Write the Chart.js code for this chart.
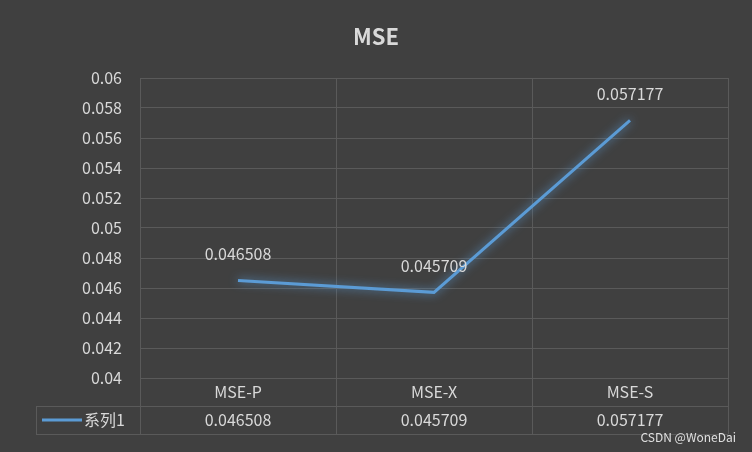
<!DOCTYPE html>
<html><head><meta charset="utf-8">
<script src="https://cdn.jsdelivr.net/npm/chart.js@4/dist/chart.umd.min.js"></script>
<style>html,body{margin:0;background:#404040}#w{width:752px;height:452px}</style>
</head><body><div id="w"><canvas id="c"></canvas></div>
<script>
const categories=["MSE-P","MSE-X","MSE-S"];
const values=[0.046508,0.045709,0.057177];
const seriesName="系列1";
const titleText="MSE";
const FONT='"Microsoft YaHei","Noto Sans CJK SC","DejaVu Sans",sans-serif';
const TXT='#d9d9d9', GRID='#5a5a5a';
const deco={id:'deco',
 beforeDatasetDraw(ch){const c=ch.ctx;c.save();c.shadowColor='rgba(91,155,213,0.9)';c.shadowBlur=10;},
 afterDatasetDraw(ch){ch.ctx.restore();},
 afterDraw(ch){
  const c=ch.ctx,a=ch.chartArea,x=ch.scales.x;
  c.save();
  c.fillStyle=TXT;c.textAlign='center';c.textBaseline='middle';
  c.font='bold 22px '+FONT;c.fillText(titleText,376,37);
  c.font='16px '+FONT;
  const meta=ch.getDatasetMeta(0);
  meta.data.forEach((p,i)=>c.fillText(values[i].toString(),p.x,p.y-26));
  // table
  const r0=a.bottom,r1=r0+28,r2=r1+28,left=36;
  c.strokeStyle=GRID;c.lineWidth=1;c.beginPath();
  c.moveTo(a.left,r0+.5);c.lineTo(a.right,r0+.5);
  c.moveTo(left,r1+.5);c.lineTo(a.right,r1+.5);
  c.moveTo(left,r2+.5);c.lineTo(a.right,r2+.5);
  c.moveTo(left+.5,r1);c.lineTo(left+.5,r2);
  const w=(a.right-a.left)/categories.length;
  for(let i=0;i<=categories.length;i++){const xx=Math.round(a.left+i*w)+.5;c.moveTo(xx,r0);c.lineTo(xx,r2);}
  c.stroke();
  categories.forEach((k,i)=>{const cx=x.getPixelForValue(i);c.fillText(k,cx,(r0+r1)/2);c.fillText(values[i].toString(),cx,(r1+r2)/2);});
  c.strokeStyle='#5b9bd5';c.lineWidth=3;c.beginPath();c.moveTo(42,(r1+r2)/2);c.lineTo(82,(r1+r2)/2);c.stroke();
  c.textAlign='left';c.fillText(seriesName,84,(r1+r2)/2);
  c.font='12px '+FONT;c.textAlign='right';c.fillStyle='#e0e0e0';c.fillText('CSDN @WoneDai',736,437);
  c.restore();
 }};
new Chart(document.getElementById('c'),{type:'line',
 data:{labels:categories,datasets:[{label:seriesName,data:values,borderColor:'#5b9bd5',borderWidth:3,pointRadius:0,tension:0}]},
 plugins:[deco],
 options:{responsive:true,maintainAspectRatio:false,animation:false,
  layout:{padding:{top:78,right:24,bottom:74,left:0}},
  plugins:{legend:{display:false},tooltip:{enabled:false}},
  scales:{
   x:{offset:true,grid:{color:GRID,offset:true,drawTicks:false},border:{display:false},ticks:{display:false}},
   y:{min:0.04,max:0.06,grid:{color:GRID,drawTicks:false},border:{display:false},
      afterFit(s){s.width=140;},
      ticks:{stepSize:0.002,padding:18,color:TXT,font:{size:16,family:FONT},callback:v=>parseFloat(v.toFixed(3)).toString()}}
  }}});
</script></body></html>
